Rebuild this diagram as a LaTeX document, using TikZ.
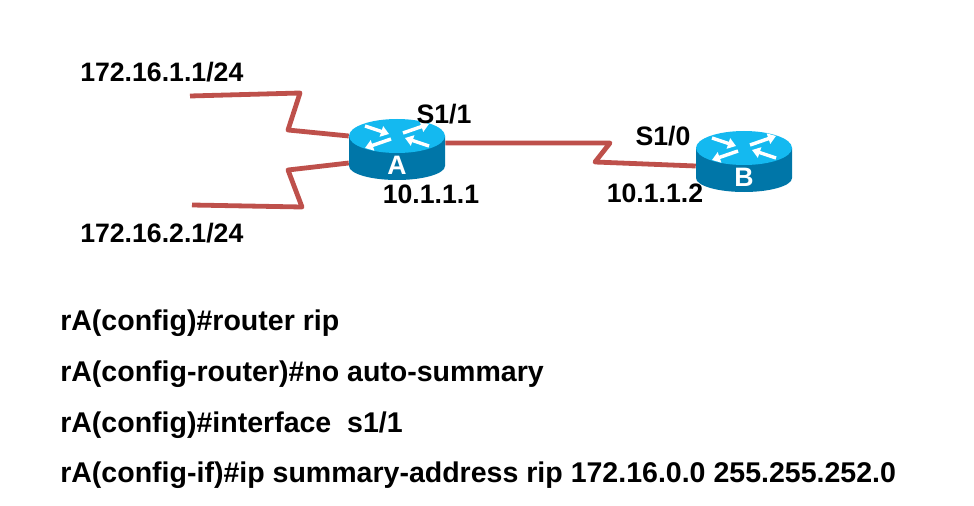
\documentclass[tikz,border=0pt]{standalone}
\usepackage{fontspec}
\setmainfont{Liberation Sans}
\usetikzlibrary{arrows.meta}
\definecolor{rtop}{RGB}{20,185,240}
\definecolor{rside}{RGB}{0,118,168}
\definecolor{wan}{RGB}{190,80,75}
\tikzset{
    wanline/.style = {draw = wan, line width = 3.6pt, line join = round},
    lbl/.style = {font = \bfseries\fontsize{20}{20}\selectfont, inner sep = 0pt},
    cfg/.style = {font = \bfseries\fontsize{21.4}{21.4}\selectfont, anchor = west, inner sep = 0pt},
    tiparrow/.style = {white, line width = 2.6pt, -{Triangle[length=6pt,width=8pt]}}
}
% router icon: centre of top ellipse, name, label
\newcommand{\routericon}[3]{
    \begin{scope}[shift={#1}]
        \fill[rside] (-48,0) -- (-48,30) arc[start angle=180, end angle=0, x radius=48, y radius=14] -- (48,0) -- cycle;
        \fill[rtop] (0,0) ellipse[x radius=48, y radius=17];
        \draw[tiparrow] (-32,-10) -- (-8,-2);
        \draw[tiparrow] (32,10) -- (8,2);
        \draw[tiparrow] (6,-3) -- (32,-12);
        \draw[tiparrow] (-6,3) -- (-32,12);
        \node[lbl, white] at (0,29) {#3};
        \node[minimum width=72pt, minimum height=45pt, inner sep=0pt] (#2) at (0,14) {};
    \end{scope}
}
\begin{document}
\begin{tikzpicture}[x=0.75pt, y=-0.75pt]
    \useasboundingbox (0,0) rectangle (974,506);

    % ---------------------------------------------------------------------------
    % Draw routers
    % ---------------------------------------------------------------------------
    \routericon{(397,136)}{rA}{A}
    \routericon{(744,148)}{rB}{B}

    \coordinate (lanOne) at (190,96);
    \coordinate (lanTwo) at (192,205);

    % ---------------------------------------------------------------------------
    % Draw links
    % ---------------------------------------------------------------------------
    \draw[wanline] (lanOne) -- (300,93) -- (288,130) -- (rA.west |- 0,136);
    \draw[wanline] (lanTwo) -- (302,207) -- (288,170) -- (rA.west |- 0,163);
    \draw[wanline] (rA.east |- 0,143) -- (610,143) -- (595,162) -- (rB.west |- 0,166);

    % ---------------------------------------------------------------------------
    % Draw labels
    % ---------------------------------------------------------------------------
    \node[lbl, anchor=west] (netOne) at (80,72)  {172.16.1.1/24};
    \node[lbl, anchor=west] (netTwo) at (80,233) {172.16.2.1/24};
    \node[lbl] (ifA)  at (444,114) {S1/1};
    \node[lbl] (ipA)  at (431,194) {10.1.1.1};
    \node[lbl] (ifB)  at (663,136) {S1/0};
    \node[lbl] (ipB)  at (655,193) {10.1.1.2};

    \node[cfg] (cmdOne)   at (60,323) {rA(config)\#router rip};
    \node[cfg] (cmdTwo)   at (60,374) {rA(config-router)\#no auto-summary};
    \node[cfg] (cmdThree) at (60,425) {rA(config)\#interface\ \ s1/1};
    \node[cfg] (cmdFour)  at (60,475) {rA(config-if)\#ip summary-address rip 172.16.0.0 255.255.252.0};
\end{tikzpicture}
\end{document}
